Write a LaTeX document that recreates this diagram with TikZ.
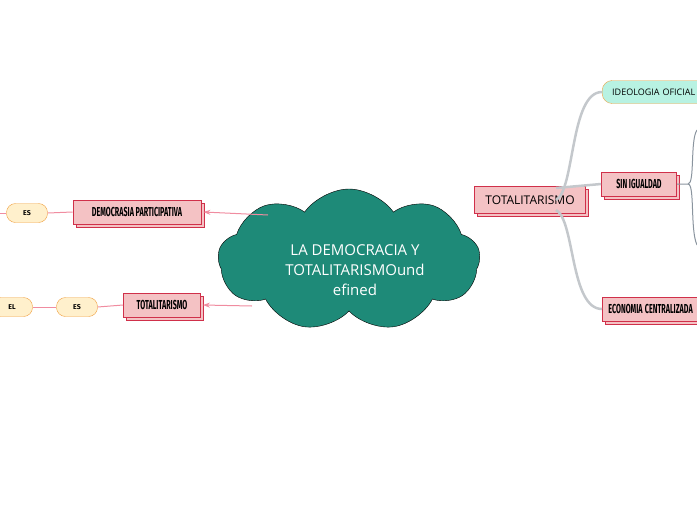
\documentclass[tikz,border=0pt]{standalone}
\usepackage{fontspec}
\setmainfont{Fira Sans}
\newfontfamily\opsans{Open Sans}
\usetikzlibrary{shapes.symbols,arrows.meta,shadows}
\definecolor{teal1}{HTML}{1E8A78}
\definecolor{pinkf}{HTML}{F4C2C4}
\definecolor{pinkd}{HTML}{D0304A}
\definecolor{pinkl}{HTML}{F08CA0}
\definecolor{creamf}{HTML}{FFF0CC}
\definecolor{orng}{HTML}{F0A040}
\definecolor{mint}{HTML}{B8F2E2}
\definecolor{grayl}{HTML}{C4C8CC}
\definecolor{grayd}{HTML}{8A949E}
\tikzset{
 pbox/.style={draw=pinkd,fill=pinkf,line width=0.9pt,minimum height=24pt,inner xsep=6pt,
   copy shadow={shadow xshift=3pt,shadow yshift=-3pt,draw=pinkd,fill=pinkf,line width=0.9pt},font=\bfseries\fontsize{13}{15}\selectfont},
 pill/.style={draw=orng,fill=creamf,rounded corners=9pt,minimum width=41pt,minimum height=19pt,font=\bfseries\fontsize{7}{8}\selectfont},
 pink/.style={draw=pinkl,line width=1pt},
 gray/.style={draw=grayl,line width=2.5pt},
}
\begin{document}
\begin{tikzpicture}[x=1pt,y=-1pt]
\useasboundingbox (0,0) rectangle (697,520);
\clip (0,0) rectangle (697,520);
\node[cloud,cloud puffs=9,cloud puff arc=110,aspect=1.9,draw=black,fill=teal1,minimum width=262pt,minimum height=142pt,inner sep=0pt] (c) at (349,260) {};
\node[text=white,align=center,font=\opsans\fontsize{15}{20}\selectfont] at (355,270) {LA DEMOCRACIA Y\\TOTALITARISMOund\\efined};
\node[pbox,minimum width=128pt] (dp) at (137,212) {\scalebox{0.55}[1]{DEMOCRASIA PARTICIPATIVA}};
\node[pbox,minimum width=77pt] (tl) at (162,305) {\scalebox{0.55}[1]{TOTALITARISMO}};
\node[pill] (es1) at (27,213) {ES};
\node[pill] (es2) at (77,307) {ES};
\node[pill] (el) at (12,307) {EL};
\coordinate (l1) at (0,213);
\draw[pink,-{Stealth[length=7pt,width=5pt]}] (268,215) -- ([xshift=2pt]dp.east);
\draw[pink,-{Stealth[length=7pt,width=5pt]}] (252,306) -- ([xshift=2pt]tl.east);
\draw[pink] (dp.west) -- (es1.east);
\draw[pink] (es1.west) -- (l1);
\draw[pink] (tl.west) -- (es2.east);
\draw[pink] (es2.west) -- (el.east);
\node[draw=pinkd,fill=pinkf,line width=0.9pt,minimum height=27pt,minimum width=111pt,
  copy shadow={shadow xshift=3pt,shadow yshift=-3pt,draw=pinkd,fill=pinkf,line width=0.9pt},font=\opsans\fontsize{12}{14}\selectfont] (tr) at (530,200) {TOTALITARISMO};
\node[draw=orng,fill=mint,rounded corners=10pt,minimum height=23pt,minimum width=130pt,anchor=west,font=\opsans\fontsize{9}{11}\selectfont,text width=110pt] (io) at (602,92) {IDEOLOGIA OFICIAL};
\node[pbox,minimum width=75pt] (si) at (639,184) {\scalebox{0.55}[1]{SIN IGUALDAD}};
\node[pbox,anchor=west,minimum width=130pt,text width=118pt] (ec) at (602,309) {\scalebox{0.55}[1]{ECONOMIA CENTRALIZADA}};
\draw[gray] (556,200) .. controls (575,190) and (570,92) .. (io.west);
\draw[gray] (556,188) -- (si.west);
\draw[gray] (556,210) .. controls (575,220) and (570,309) .. (ec.west);
\coordinate (a1) at (697,130);
\coordinate (a2) at (697,245);
\draw[grayd,line width=1pt] (si.east) -- (688,184) .. controls (695,184) and (690,140) .. (a1);
\draw[grayd,line width=1pt] (688,184) .. controls (695,184) and (690,230) .. (a2);
\end{tikzpicture}
\end{document}
